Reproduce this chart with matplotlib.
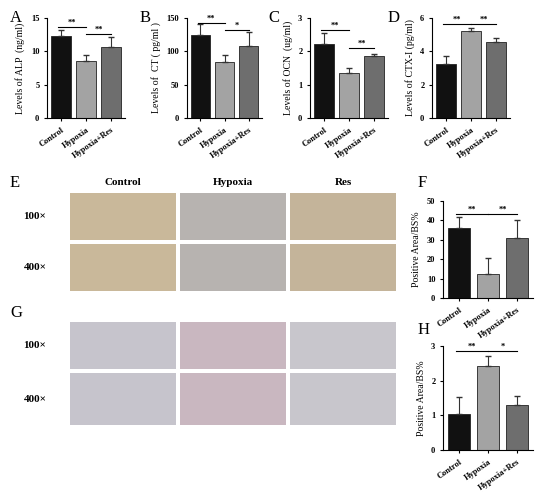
import matplotlib
matplotlib.use('Agg')
import matplotlib.pyplot as plt

plt.rcParams['font.family'] = 'Liberation Serif'
plt.rcParams['font.weight'] = 'bold'

groups = ['Control', 'Hypoxia', 'Hypoxia+Res']
colors = ['#111111', '#a3a3a3', '#6e6e6e']

alp_mean = [12.3, 8.6, 10.6]
alp_err = [0.9, 0.9, 1.5]
ct_mean = [125, 84, 108]
ct_err = [16, 11, 21]
ocn_mean = [2.22, 1.36, 1.85]
ocn_err = [0.32, 0.14, 0.08]
ctx_mean = [3.25, 5.2, 4.58]
ctx_err = [0.5, 0.22, 0.2]
f_mean = [36, 12.2, 31]
f_err = [5.8, 8.2, 9.2]
h_mean = [1.05, 2.42, 1.3]
h_err = [0.48, 0.3, 0.25]

W, H = 550, 495
fig = plt.figure(figsize=(5.5, 4.95), dpi=100)


def ax_px(x0, y0, x1, y1):
    return fig.add_axes([x0 / W, 1 - y1 / H, (x1 - x0) / W, (y1 - y0) / H])


def bar_panel(box, means, errs, ylim, yticks, ylabel, letter, lpos, sigs):
    ax = ax_px(*box)
    x = range(3)
    ax.bar(x, means, 0.78, color=colors, edgecolor='#222222', lw=0.6)
    ax.errorbar(x, means, yerr=[[0] * 3, errs], fmt='none', ecolor='#333333',
                capsize=2.5, lw=0.8)
    ax.set_ylim(*ylim)
    ax.set_xlim(-0.55, 2.55)
    ax.set_yticks(yticks)
    ax.tick_params(labelsize=6, length=2, width=0.8)
    ax.set_xticks(list(x))
    ax.set_xticklabels(groups, rotation=35, ha='right', rotation_mode='anchor',
                       fontsize=6)
    ax.set_ylabel(ylabel, fontsize=7)
    for s in ['top', 'right']:
        ax.spines[s].set_visible(False)
    top = ylim[1]
    for (a, b, lab, yy) in sigs:
        y = yy * top
        ax.plot([a, b], [y, y], color='k', lw=0.8)
        ax.text((a + b) / 2, y, lab, ha='center', va='bottom', fontsize=6)
    fig.text(lpos[0] / W, 1 - lpos[1] / H, letter, fontsize=12,
             fontweight='normal', ha='left', va='center')
    return ax


bar_panel((47, 18, 125, 118), alp_mean, alp_err, (0, 15), [0, 5, 10, 15],
          'Levels of ALP  (ng/ml)', 'A', (10, 18),
          [(-0.1, 1.0, '**', 0.91), (1.0, 2.0, '**', 0.84)])
bar_panel((187, 18, 262, 118), ct_mean, ct_err, (0, 150), [0, 50, 100, 150],
          'Levels of  CT ( pg/ml )', 'B', (140, 18),
          [(-0.1, 1.0, '**', 0.95), (1.0, 2.0, '*', 0.88)])
bar_panel((310, 18, 388, 118), ocn_mean, ocn_err, (0, 3), [0, 1, 2, 3],
          'Levels of OCN  (ug/ml)', 'C', (268, 18),
          [(-0.1, 1.0, '**', 0.88), (1.0, 2.0, '**', 0.7)])
bar_panel((432, 18, 510, 118), ctx_mean, ctx_err, (0, 6), [0, 2, 4, 6],
          'Levels of CTX-I (pg/ml)', 'D', (388, 18),
          [(-0.1, 1.0, '**', 0.94), (1.0, 2.0, '**', 0.94)])
bar_panel((443, 201, 533, 298), f_mean, f_err, (0, 50), [0, 10, 20, 30, 40, 50],
          'Positive Area/BS%', 'F', (418, 183),
          [(-0.1, 1.0, '**', 0.87), (1.0, 2.0, '**', 0.87)])
bar_panel((443, 346, 533, 450), h_mean, h_err, (0, 3), [0, 1, 2, 3],
          'Positive Area/BS%', 'H', (418, 330),
          [(-0.1, 1.0, '**', 0.95), (1.0, 2.0, '*', 0.95)])

# micrograph panels (placeholders)
cols_x = [(70, 176), (180, 286), (290, 396)]
e_rows = [(193, 240), (244, 291)]
g_rows = [(322, 369), (373, 425)]
e_tones = ['#c9b89a', '#b7b3b0', '#c4b49a']
g_tones = ['#c6c4cc', '#c9b7c0', '#c8c6cc']
for rows, tones in [(e_rows, e_tones), (g_rows, g_tones)]:
    for (y0, y1) in rows:
        for (x0, x1), c in zip(cols_x, tones):
            a = ax_px(x0, y0, x1, y1)
            a.set_facecolor(c)
            a.set_xticks([])
            a.set_yticks([])
            for s in a.spines.values():
                s.set_visible(False)

for name, (x0, x1) in zip(['Control', 'Hypoxia', 'Res'], cols_x):
    fig.text((x0 + x1) / 2 / W, 1 - 183 / H, name, ha='center', va='center',
             fontsize=8)
for rows in [e_rows, g_rows]:
    for lab, (y0, y1) in zip(['100×', '400×'], rows):
        fig.text(35 / W, 1 - (y0 + y1) / 2 / H, lab, ha='center', va='center',
                 fontsize=8)
fig.text(10 / W, 1 - 183 / H, 'E', fontsize=12, va='center', fontweight='normal')
fig.text(10 / W, 1 - 313 / H, 'G', fontsize=12, va='center', fontweight='normal')

fig.savefig('out.png', dpi=100)
